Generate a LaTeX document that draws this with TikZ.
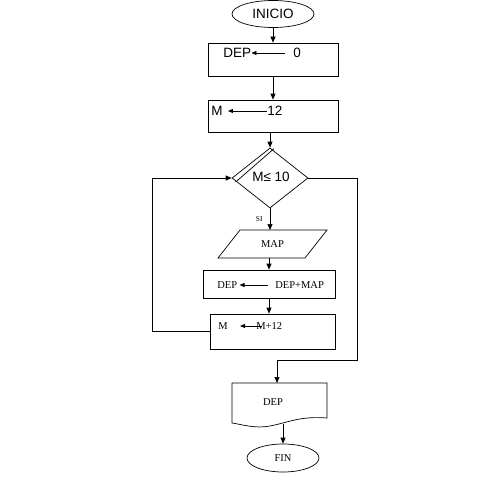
\documentclass[tikz,border=0pt]{standalone}
\usepackage{fontspec}
\setmainfont{Liberation Serif}
\newfontfamily\arialf{Liberation Sans}
\usetikzlibrary{arrows.meta,shapes.geometric}
\begin{document}
\begin{tikzpicture}[x=1pt,y=-1pt, line width=0.7pt,
  conn/.style={-{Triangle[length=6pt,width=5pt]}},
  inarr/.style={-{Triangle[length=5pt,width=4pt]}},
  box/.style={draw, inner sep=0pt},
  sans/.style={font=\arialf\fontsize{13.5}{15}\selectfont, inner sep=0pt},
  serif/.style={font=\fontsize{10.5}{12}\selectfont, inner sep=0pt},
  sifont/.style={font=\fontsize{7.5}{8}\selectfont, inner sep=0pt}]
\useasboundingbox (0,0) rectangle (495,495);
\fill[white] (0,0) rectangle (495,495);

% start
\node[draw, ellipse, minimum width=82pt, minimum height=27pt, inner sep=0pt, sans] (inicio) at (273,14) {INICIO};

% box 1
\node[box, minimum width=130pt, minimum height=33pt] (b1) at (273,59.5) {};
\node[sans, anchor=west] (dep1) at (223,53) {DEP};
\node[sans, anchor=west] (zero) at (293,53) {0};
\draw[inarr] ([xshift=-8pt]zero.west) -- (dep1.east);

% box 2
\node[box, minimum width=130pt, minimum height=32pt] (b2) at (273,116) {};
\node[sans, anchor=west] (m2) at (211,111) {M};
\node[sans, anchor=west] (n12) at (267,111) {12};
\draw[inarr] (n12.west) -- ([xshift=5pt]m2.east);

% decision
\node[draw, diamond, minimum width=76pt, minimum height=60pt, inner sep=0pt] (d) at (270,178) {};
\node[sans] (dtext) at (271,177) {M≤ 10};
\draw ([shift={(4,1)}]d.north) -- ([shift={(4,4)}]d.west);

% input MAP
\draw (218,258) -- (240,230) -- (327,230) -- (305,258) -- cycle;
\node[serif] (map) at (272.5,244) {MAP};
\coordinate (maptop) at (270,230);
\coordinate (mapbot) at (269,258);

% box 3
\node[box, minimum width=132pt, minimum height=28pt] (b3) at (269,284) {};
\node[serif, anchor=west] (dep3) at (217,285) {DEP};
\node[serif, anchor=west] (depmap) at (275,285) {DEP+MAP};
\draw[inarr] ([xshift=-7pt]depmap.west) -- ([xshift=2pt]dep3.east);

% box 4
\node[box, minimum width=125pt, minimum height=35pt] (b4) at (272.5,331.5) {};
\node[serif, anchor=west] (m4) at (218,326) {M};
\node[serif, anchor=west] (m12) at (256,326) {M+12};
\draw[inarr] ([xshift=6pt]m12.west) -- ([xshift=12pt]m4.east);

% output document
\draw (232,383) -- (327,383) -- (327,418)
  .. controls (300,416) and (290,422) .. (270,426)
  .. controls (255,429) and (240,424) .. (232,423) -- cycle;
\node[serif] (doc) at (273,402) {DEP};
\coordinate (doctop) at (277,383);
\coordinate (docbot) at (283,424);

% end
\node[draw, ellipse, minimum width=72pt, minimum height=28pt, inner sep=0pt, serif] (fin) at (283,458) {FIN};

% connectors
\draw[conn] (inicio) -- (b1);
\draw[conn] (b1) -- (b2);
\draw[conn] (b2.south -| d.north) -- (d.north);
\draw[conn] (d.south) -- node[pos=0.5, left=7pt, sifont] {SI} (d.south |- maptop);
\draw[conn] (mapbot) -- (mapbot |- b3.north);
\draw[conn] (b3.south) -- (b3.south |- b4.north);
\draw[conn] (b4.west) -- ++(-57,0) |- (d.west);
\coordinate (r1) at (357,360);
\draw[conn] (d.east) -| (r1) -| (doctop);
\draw[conn] (docbot) -- (fin.north);
\end{tikzpicture}
\end{document}
